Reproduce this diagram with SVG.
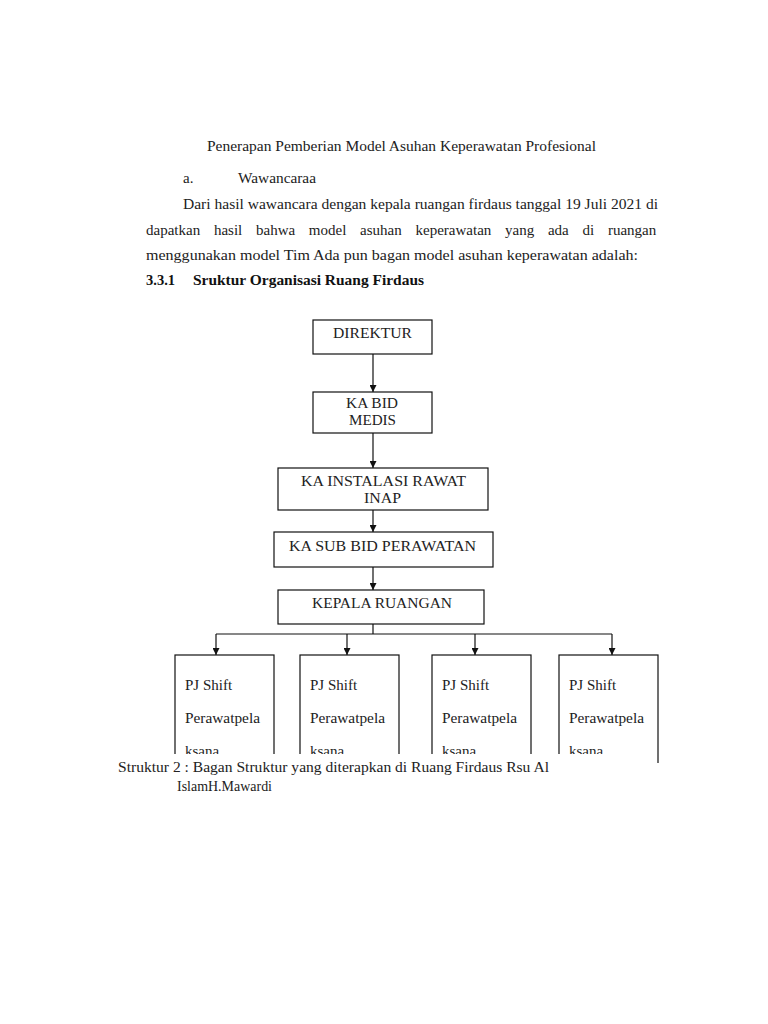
<svg xmlns="http://www.w3.org/2000/svg" width="768" height="1024" viewBox="0 0 768 1024">
<style>
.t{font-family:"Liberation Serif","Times New Roman",serif;font-size:15px;fill:#222}
.b{font-family:"Liberation Serif","Times New Roman",serif;font-size:15px;font-weight:bold;fill:#111}
.n{font-family:"Liberation Serif","Times New Roman",serif;font-size:14px;fill:#222}
.box{fill:#fff;stroke:#111;stroke-width:1.2}
.c{fill:none;stroke:#111;stroke-width:1.2}
</style>
<defs>
<marker id="ah" viewBox="0 0 10 10" refX="10" refY="5" markerWidth="7" markerHeight="7" markerUnits="userSpaceOnUse" orient="auto">
<path d="M0,0 L10,5 L0,10 z" fill="#111"/>
</marker>
<clipPath id="cut"><rect x="0" y="0" width="768" height="763"/></clipPath>
</defs>
<rect width="768" height="1024" fill="#fff"/>

<g id="text-body">
<text class="t" x="207" y="151" textLength="389" lengthAdjust="spacingAndGlyphs">Penerapan Pemberian Model Asuhan Keperawatan Profesional</text>
<text class="t" x="183" y="183">a.</text>
<text class="t" x="238" y="183" textLength="78" lengthAdjust="spacingAndGlyphs">Wawancaraa</text>
<text class="t" x="183" y="209" textLength="475" lengthAdjust="spacingAndGlyphs">Dari hasil wawancara dengan kepala ruangan firdaus tanggal 19 Juli 2021 di</text>
<text class="t" x="146" y="235" word-spacing="10">dapatkan hasil bahwa model asuhan keperawatan yang ada di ruangan</text>
<text class="t" x="146" y="260" textLength="492" lengthAdjust="spacingAndGlyphs">menggunakan model Tim Ada pun bagan model asuhan keperawatan adalah:</text>
<text class="b" x="146" y="285" textLength="29" lengthAdjust="spacingAndGlyphs">3.3.1</text>
<text class="b" x="193" y="285" textLength="231" lengthAdjust="spacingAndGlyphs">Sruktur Organisasi Ruang Firdaus</text>
</g>

<g id="connectors">
<line class="c" x1="373" y1="354" x2="373" y2="392" marker-end="url(#ah)"/>
<line class="c" x1="373" y1="433" x2="373" y2="468" marker-end="url(#ah)"/>
<line class="c" x1="373" y1="510" x2="373" y2="532" marker-end="url(#ah)"/>
<line class="c" x1="373" y1="567" x2="373" y2="590" marker-end="url(#ah)"/>
<polyline class="c" points="373,624 373,634"/>
<line class="c" x1="216" y1="634" x2="612" y2="634"/>
<line class="c" x1="216" y1="634" x2="216" y2="655" marker-end="url(#ah)"/>
<line class="c" x1="347" y1="634" x2="347" y2="655" marker-end="url(#ah)"/>
<line class="c" x1="475" y1="634" x2="475" y2="655" marker-end="url(#ah)"/>
<line class="c" x1="612" y1="634" x2="612" y2="655" marker-end="url(#ah)"/>
</g>

<g id="direktur">
<rect class="box" x="313" y="320" width="119" height="34"/>
<text class="n" x="333" y="338" textLength="79" lengthAdjust="spacingAndGlyphs">DIREKTUR</text>
</g>
<g id="ka-bid-medis">
<rect class="box" x="313" y="392" width="119" height="41"/>
<text class="n" x="346" y="408" textLength="52" lengthAdjust="spacingAndGlyphs">KA BID</text>
<text class="n" x="349" y="425" textLength="47" lengthAdjust="spacingAndGlyphs">MEDIS</text>
</g>
<g id="ka-instalasi">
<rect class="box" x="278" y="468" width="210" height="42"/>
<text class="n" x="301" y="486" textLength="165" lengthAdjust="spacingAndGlyphs">KA INSTALASI RAWAT</text>
<text class="n" x="364" y="503" textLength="37" lengthAdjust="spacingAndGlyphs">INAP</text>
</g>
<g id="ka-sub-bid">
<rect class="box" x="274" y="532" width="219" height="35"/>
<text class="n" x="289" y="551" textLength="187" lengthAdjust="spacingAndGlyphs">KA SUB BID PERAWATAN</text>
</g>
<g id="kepala-ruangan">
<rect class="box" x="278" y="590" width="206" height="34"/>
<text class="n" x="312" y="608" textLength="140" lengthAdjust="spacingAndGlyphs">KEPALA RUANGAN</text>
</g>

<g clip-path="url(#cut)">
<g id="pj1">
<rect class="box" x="175" y="655" width="99" height="140"/>
<text class="t" x="185" y="690">PJ Shift</text>
<text class="t" x="185" y="723" textLength="75" lengthAdjust="spacingAndGlyphs">Perawatpela</text>
<text class="t" x="185" y="756">ksana</text>
</g>
<g id="pj2">
<rect class="box" x="300" y="655" width="99" height="140"/>
<text class="t" x="310" y="690">PJ Shift</text>
<text class="t" x="310" y="723" textLength="75" lengthAdjust="spacingAndGlyphs">Perawatpela</text>
<text class="t" x="310" y="756">ksana</text>
</g>
<g id="pj3">
<rect class="box" x="432" y="655" width="99" height="140"/>
<text class="t" x="442" y="690">PJ Shift</text>
<text class="t" x="442" y="723" textLength="75" lengthAdjust="spacingAndGlyphs">Perawatpela</text>
<text class="t" x="442" y="756">ksana</text>
</g>
<g id="pj4">
<rect class="box" x="559" y="655" width="99" height="140"/>
<text class="t" x="569" y="690">PJ Shift</text>
<text class="t" x="569" y="723" textLength="75" lengthAdjust="spacingAndGlyphs">Perawatpela</text>
<text class="t" x="569" y="756">ksana</text>
</g>
</g>
<rect x="110" y="754" width="546" height="50" fill="#fff"/>
<g id="caption">
<text class="t" x="118" y="772" textLength="431" lengthAdjust="spacingAndGlyphs">Struktur 2 : Bagan Struktur yang diterapkan di Ruang Firdaus Rsu Al</text>
<text class="t" x="177" y="791" textLength="95" lengthAdjust="spacingAndGlyphs">IslamH.Mawardi</text>
</g>
</svg>
